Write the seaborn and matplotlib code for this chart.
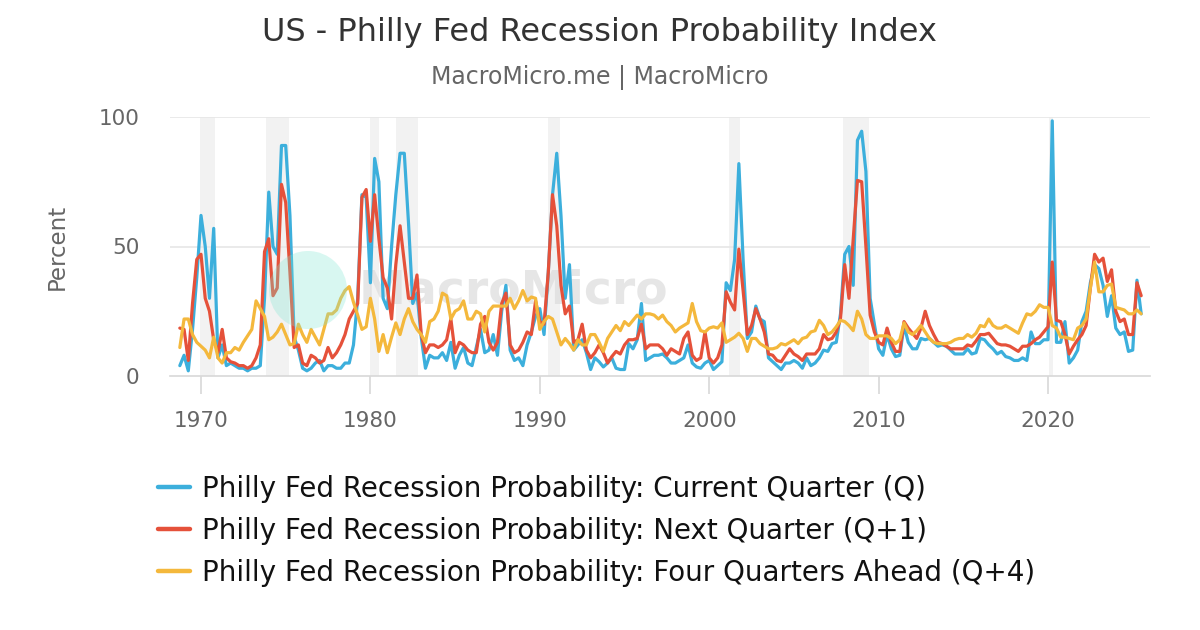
import pandas as pd
import matplotlib.pyplot as plt
import seaborn as sns
from matplotlib.patches import Ellipse

# quarterly readings, first point = 1968Q4
first_quarter = "1968Q4"

current_q = [
    4, 8, 2, 18, 38, 62, 50, 30, 57, 7, 12, 4, 5, 4, 3, 3, 2, 3, 3, 4,
    30, 71, 50, 47, 89, 89, 62, 15, 10, 3, 2, 3, 5, 6, 2, 4, 4, 3, 3, 5,
    5, 12, 30, 70, 69, 36, 84, 75, 30, 26, 50, 70, 86, 86, 59, 28, 32, 15, 3, 8,
    7, 7, 9, 6, 13, 3, 8, 11, 5, 4, 11, 18, 9, 10, 16, 8, 25, 35, 10, 6,
    7, 4, 12, 17, 23, 26, 16, 40, 70, 86, 62, 30, 43, 10, 12, 14, 9, 2.5, 7, 5.5,
    3.5, 5, 7, 3, 2.5, 2.5, 12.5, 10.5, 14, 28, 6, 7, 8, 8, 8.5, 7, 5, 5, 6, 7,
    12, 5, 3.5, 3, 5, 6, 2.5, 4, 5.5, 36, 33, 45, 82, 45, 14.5, 17, 27, 22, 21, 7,
    5.5, 4, 2.5, 5, 5, 6, 5, 3, 7, 4, 5, 7, 10, 9.5, 12.5, 13, 24, 47, 50, 35,
    91, 94.5, 79, 30, 20, 10.5, 8, 16, 10.5, 7.5, 8, 19.5, 13, 10.5, 10.5, 14.5, 14, 14.5, 13, 11.5,
    12, 11.5, 10, 8.5, 8.5, 8.5, 10.5, 8.5, 9, 14.5, 14, 12, 10.5, 8.5, 9.5, 7.5, 7, 6, 6, 7,
    6, 17, 12.5, 12.5, 14, 14, 98.5, 13, 13, 21, 5, 7, 10, 21, 25, 36, 43, 41.5, 35, 23,
    31, 18.5, 16, 17, 9.5, 10, 37, 24,
]

next_q = [
    18.5, 18, 6, 28, 45, 47, 30, 25, 14, 9, 18, 7, 5.5, 5, 4, 4, 3, 4, 7, 12,
    48, 53, 31, 34, 74, 67, 40, 11, 12, 5, 4, 8, 7, 5, 6, 11, 7, 9, 12, 16,
    22, 25, 28, 69, 72, 52, 70, 53, 38, 34, 22, 43, 58, 44, 30, 30, 39, 16, 9, 12,
    12, 11, 12, 14, 22, 9, 13, 12, 10, 9, 9, 20, 23, 13, 10, 13, 28, 32, 12, 9,
    10, 13, 17, 16, 29, 21, 20, 40, 70, 58, 35, 24, 27, 13, 14, 20, 10, 7, 9, 12,
    9, 5, 7.5, 9.5, 8.5, 12, 14, 14, 14.5, 20, 10.5, 12, 12, 12, 10.5, 8, 10.5, 9.5, 8.5, 14.5,
    17, 8, 6, 7, 17, 7, 5, 7, 12, 32.5, 28.5, 25.5, 49, 33, 16, 19.5, 26, 22, 17, 8.5,
    8, 6, 5.5, 8, 10.5, 8.5, 7.5, 6, 8.5, 8.5, 8.5, 10.5, 16, 14, 14.5, 17, 22, 43, 30, 53,
    75.5, 75, 50, 23.5, 17, 13, 12, 18.5, 13, 9.5, 9.5, 21, 18.5, 16.5, 14.5, 18.5, 25, 19.5, 16, 13,
    12.5, 11.5, 10.5, 10.5, 10.5, 10.5, 12, 11.5, 13.5, 16, 16, 16.5, 14.5, 12.5, 12, 12, 11.5, 10.5, 9.5, 11.5,
    11.5, 12.5, 14, 15, 17, 19, 44, 21.5, 21, 16, 8.5, 11.5, 14, 16, 19.5, 34, 47, 44, 45.5, 36.5,
    41, 25, 21, 22, 16, 16, 36, 31,
]

four_q = [
    11, 22, 22, 16, 13, 11.5, 10, 7, 15, 7, 5, 9, 9, 11, 10, 13, 15.5, 18, 29, 26,
    23, 14, 15, 17, 20, 16, 12, 12.5, 20, 16, 13, 18, 15, 12, 18, 24, 24, 25.5, 30, 33,
    34.5, 28.5, 23.5, 18, 19, 30, 22, 9.5, 16, 9, 15, 20.5, 16, 22, 26, 21, 18, 16, 13, 21,
    22, 25, 32, 31, 22, 25, 26, 29, 22, 22, 25, 24, 17, 25, 27, 27, 27, 27, 30, 26,
    29, 33, 29, 30.5, 30, 18, 21, 23, 22, 17, 12, 14.5, 12.5, 10, 14, 12, 12, 16, 16, 13,
    9.5, 14.5, 17, 19.5, 17.5, 21, 19.5, 21.5, 23.5, 22, 24, 24, 23.5, 22, 23.5, 21, 19.5, 17, 18.5, 19.5,
    20.5, 28, 21, 17.5, 17, 18.5, 19, 18.5, 20.5, 13, 14, 15, 16.5, 14.5, 9.5, 14.5, 14.5, 12.5, 11.5, 10.5,
    10.5, 11, 12.5, 12, 13, 14, 12.5, 14.5, 15, 17, 17.5, 21.5, 19.5, 16, 17, 19, 21.5, 21, 19.5, 17.5,
    25, 22, 16, 14.5, 14.5, 15.5, 15.5, 15.5, 14.5, 12.5, 14, 20.5, 17, 16, 17.5, 19.5, 17, 14.5, 13, 12.5,
    12.5, 12.5, 13, 14, 14.5, 14.5, 16, 15, 16.5, 19.5, 19, 22, 19.5, 18.5, 18.5, 19.5, 18.5, 17.5, 16.5, 20.5,
    24, 23.5, 25, 27.5, 26.5, 26.5, 19.5, 18.5, 15, 15, 14.5, 14, 18.5, 19.5, 22, 34, 44, 32.5, 32.5, 35,
    35.5, 26.5, 26, 25.5, 24, 24, 25.5, 24,
]

# NBER recessions as decimal years
rec_start = [1969.92, 1973.83, 1980.0, 1981.5, 1990.5, 2001.17, 2007.92, 2020.08]
rec_end = [1970.83, 1975.17, 1980.5, 1982.83, 1991.17, 2001.83, 2009.42, 2020.3]

series_names = [
    "Philly Fed Recession Probability: Current Quarter (Q)",
    "Philly Fed Recession Probability: Next Quarter (Q+1)",
    "Philly Fed Recession Probability: Four Quarters Ahead (Q+4)",
]
colors = ["#3cafdc", "#e5513a", "#f4b83c"]
year_ticks = [1970, 1980, 1990, 2000, 2010, 2020]

quarters = pd.period_range(first_quarter, periods=len(current_q), freq="Q")
year = list(quarters.year + (quarters.quarter - 1) / 4)

frames = []
for name, vals in zip(series_names, [current_q, next_q, four_q]):
    frames.append(pd.DataFrame({"year": year, "value": vals, "series": name}))
df = pd.concat(frames, ignore_index=True)

sns.set_theme(style="white")
plt.rcParams["font.family"] = ["DejaVu Sans"]

fig = plt.figure(figsize=(12, 6.3), dpi=100)
ax = fig.add_axes([170 / 1200, 1 - 376 / 630, 980 / 1200, 259 / 630])

for s, e in zip(rec_start, rec_end):
    ax.axvspan(s, e, color="#f2f2f2", lw=0, zorder=0)

for y in [50, 100]:
    ax.axhline(y, color="#e6e6e6", lw=1.2, zorder=0.5)

# watermark
ax.text(0.35, 0.33, "MacroMicro", transform=ax.transAxes, fontsize=34,
        fontweight="bold", color="#dcdcdc", alpha=0.7, ha="center", va="center", zorder=1)

sns.lineplot(data=df, x="year", y="value", hue="series", palette=colors,
             hue_order=series_names, linewidth=2.3, estimator=None, sort=False,
             ax=ax, zorder=3)

fig.add_artist(Ellipse((308 / 1200, 1 - 290 / 630), 78 / 1200, 78 / 630,
                       transform=fig.transFigure, color="#7fe6d2", alpha=0.3,
                       lw=0, zorder=5))

ax.set_xlim(1968.17, 2026.02)
ax.set_ylim(0, 100)
ax.set_xticks(year_ticks)
ax.set_xticklabels([str(t) for t in year_ticks])
ax.set_yticks([0, 50, 100])
ax.set_xlabel("")
ax.set_ylabel("Percent", fontsize=16.5, color="#666666")
ax.yaxis.set_label_coords(-(170 - 69) / 980, 0.5)

for side in ["top", "right", "left"]:
    ax.spines[side].set_visible(False)
ax.spines["bottom"].set_color("#d8d8d8")
ax.spines["bottom"].set_linewidth(1.2)

ax.tick_params(axis="x", direction="out", length=13, width=1.2, color="#d8d8d8",
               labelcolor="#666666", labelsize=15.5, pad=12, bottom=True)
ax.tick_params(axis="y", length=0, labelcolor="#666666", labelsize=15.5, pad=22)

handles, labels = ax.get_legend_handles_labels()
ax.get_legend().remove()
leg = fig.legend(handles, labels, loc="upper left",
                 bbox_to_anchor=(158 / 1200, 1 - 475 / 630),
                 frameon=False, fontsize=20, handlelength=1.15,
                 handletextpad=0.42, labelspacing=0.5, borderpad=0,
                 borderaxespad=0)
for line in leg.get_lines():
    line.set_linewidth(3.2)
for txt in leg.get_texts():
    txt.set_color("#111111")

fig.text(0.5, 1 - 33 / 630, "US - Philly Fed Recession Probability Index",
         ha="center", va="center", fontsize=23, color="#333333")
fig.text(0.5, 1 - 78 / 630, "MacroMicro.me | MacroMicro",
         ha="center", va="center", fontsize=17, color="#666666")

fig.savefig("out.png", dpi=100)
